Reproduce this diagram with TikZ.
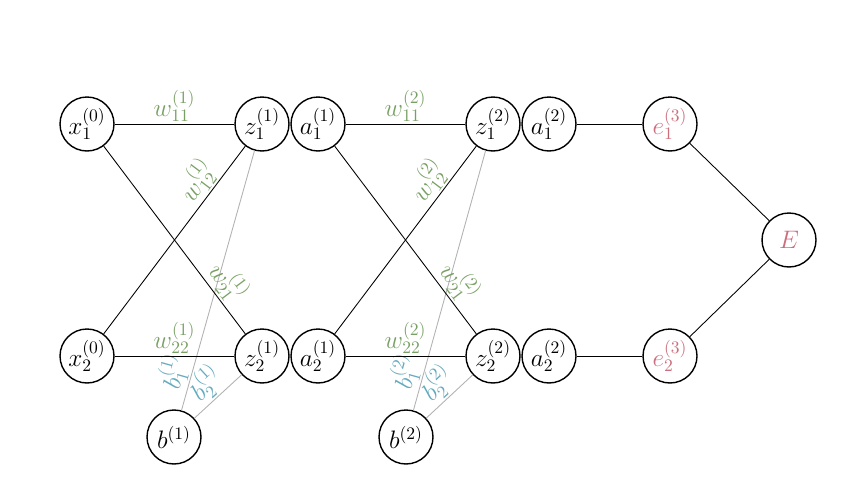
\documentclass[tikz,border=0pt]{standalone}
\begin{document}
\begin{tikzpicture}[x=0.02cm,y=-0.02cm,
 nd/.style={circle,draw,line width=0.8pt,minimum size=1.08cm,inner sep=0pt,font=\fontsize{14.5}{17}\selectfont},
 en/.style={nd,text=errc},
 ed/.style={draw,line width=0.5pt},
 bd/.style={draw=black!30,line width=0.5pt},
 wl/.style={text=wc,font=\fontsize{14.5}{17}\selectfont,inner sep=1pt},
 bl/.style={text=bc,font=\fontsize{14.5}{17}\selectfont,inner sep=1pt}]
\definecolor{wc}{RGB}{120,160,100}
\definecolor{bc}{RGB}{100,170,190}
\definecolor{errc}{RGB}{205,110,125}
\useasboundingbox (0,0) rectangle (854,480);
\node[nd] (x1) at (87,124) {$x_1^{(0)}$};
\node[nd] (x2) at (87,356) {$x_2^{(0)}$};
\node[nd] (z11) at (262,124) {$z_1^{(1)}$};
\node[nd] (z21) at (262,356) {$z_2^{(1)}$};
\node[nd] (a11) at (318,124) {$a_1^{(1)}$};
\node[nd] (a21) at (318,356) {$a_2^{(1)}$};
\node[nd] (z12) at (493,124) {$z_1^{(2)}$};
\node[nd] (z22) at (493,356) {$z_2^{(2)}$};
\node[nd] (a12) at (549,124) {$a_1^{(2)}$};
\node[nd] (a22) at (549,356) {$a_2^{(2)}$};
\node[en] (e1) at (670,124) {$e_1^{(3)}$};
\node[en] (e2) at (670,356) {$e_2^{(3)}$};
\node[en] (E) at (789,240) {$E$};
\node[nd] (b1) at (174,437) {$b^{(1)}$};
\node[nd] (b2) at (406,437) {$b^{(2)}$};
\path[bd] (b1) -- node[bl,sloped,pos=0.13,above]{$b_1^{(1)}$} (z11);
\path[bd] (b1) -- node[bl,sloped,pos=0.5,above]{$b_2^{(1)}$} (z21);
\path[bd] (b2) -- node[bl,sloped,pos=0.13,above]{$b_1^{(2)}$} (z12);
\path[bd] (b2) -- node[bl,sloped,pos=0.5,above]{$b_2^{(2)}$} (z22);
\path[ed] (x1) -- node[wl,pos=0.5,above]{$w_{11}^{(1)}$} (z11);
\path[ed] (x2) -- node[wl,pos=0.5,above]{$w_{22}^{(1)}$} (z21);
\path[ed] (x2) -- node[wl,sloped,pos=0.76,above]{$w_{12}^{(1)}$} (z11);
\path[ed] (x1) -- node[wl,sloped,pos=0.78,above]{$w_{21}^{(1)}$} (z21);
\path[ed] (a11) -- node[wl,pos=0.5,above]{$w_{11}^{(2)}$} (z12);
\path[ed] (a21) -- node[wl,pos=0.5,above]{$w_{22}^{(2)}$} (z22);
\path[ed] (a21) -- node[wl,sloped,pos=0.76,above]{$w_{12}^{(2)}$} (z12);
\path[ed] (a11) -- node[wl,sloped,pos=0.78,above]{$w_{21}^{(2)}$} (z22);
\path[ed] (a12) -- (e1);
\path[ed] (a22) -- (e2);
\path[ed] (e1) -- (E);
\path[ed] (e2) -- (E);
\end{tikzpicture}
\end{document}
